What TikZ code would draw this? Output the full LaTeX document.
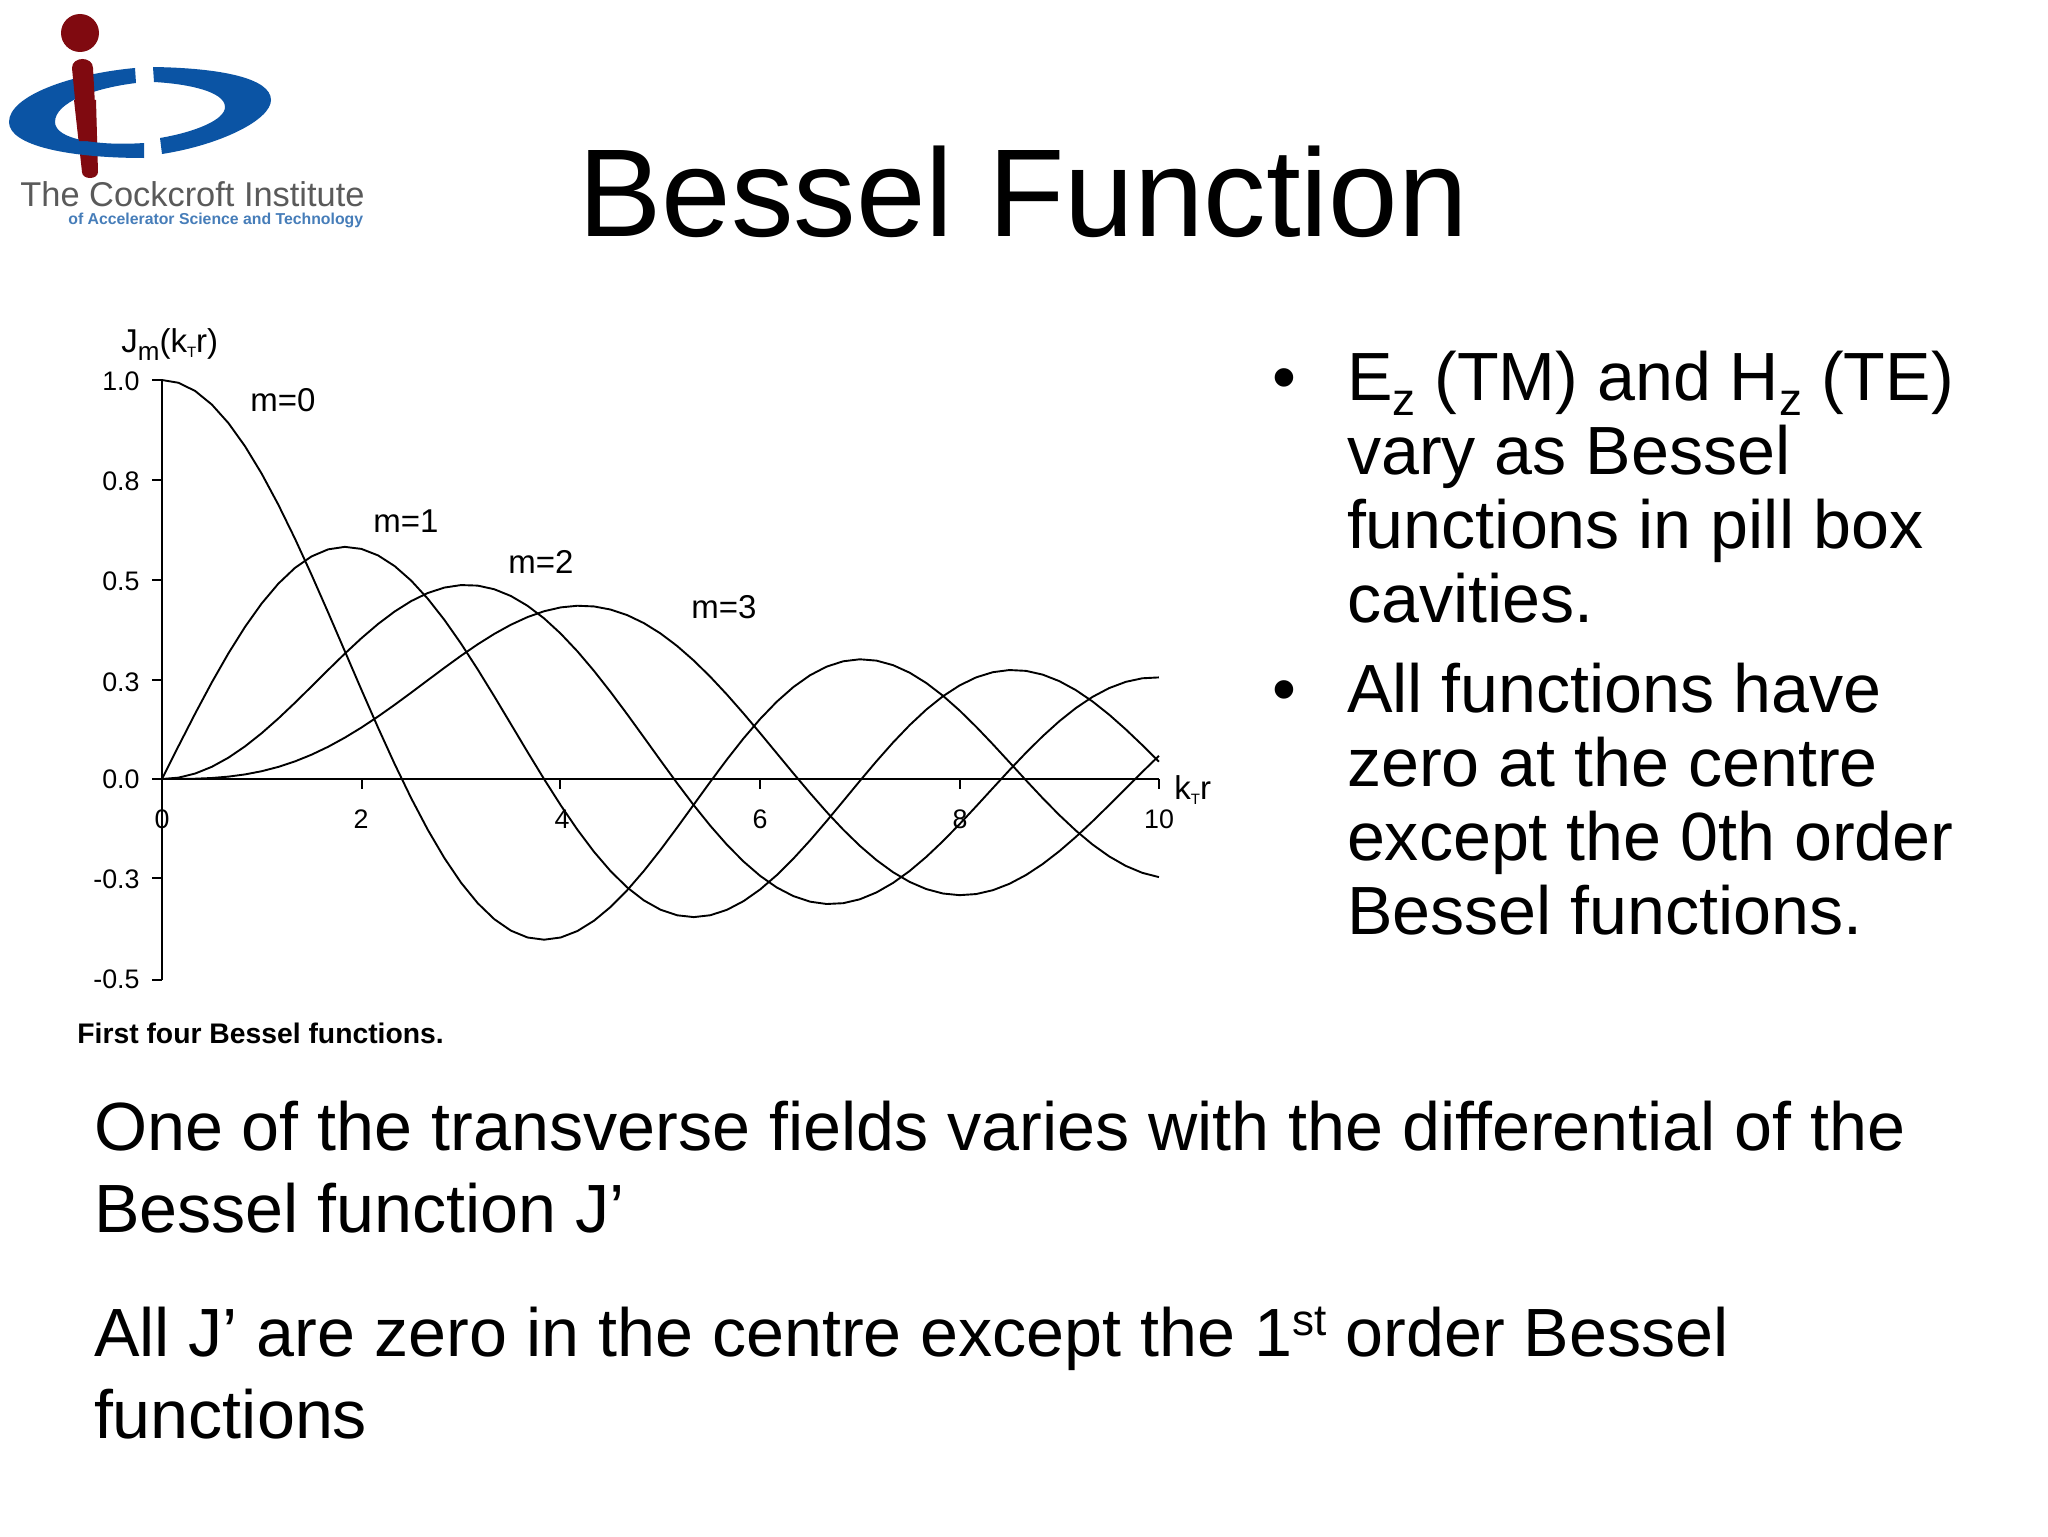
\documentclass[tikz,border=0pt]{standalone}
\usepackage{fontspec}
\setmainfont{Liberation Sans}
\newcommand{\sbs}[1]{\raisebox{-0.22em}{\fontsize{23}{23}\selectfont #1}}
\newcommand{\sps}[1]{\raisebox{0.3em}{\fontsize{22}{22}\selectfont #1}}
\newcommand{\sbt}[1]{\raisebox{-0.25em}{\fontsize{13}{13}\selectfont #1}}
\newcommand{\sbk}{\raisebox{-0.18em}{\fontsize{7.5}{7.5}\selectfont T}}
\definecolor{logoblue}{RGB}{11,84,164}
\definecolor{logored}{RGB}{128,10,16}
\definecolor{logogray}{RGB}{90,90,90}
\definecolor{logotxt}{RGB}{70,125,185}
\tikzset{
  txt/.style={anchor=base west,inner sep=0pt,outer sep=0pt,font=\fontsize{34.1}{34.1}\selectfont},
  low/.style={anchor=base west,inner sep=0pt,outer sep=0pt,font=\fontsize{34.12}{34.12}\selectfont},
  ylab/.style={anchor=base east,inner sep=0pt,font=\fontsize{13.4}{13.4}\selectfont},
  xlab/.style={anchor=base,inner sep=0pt,font=\fontsize{13.4}{13.4}\selectfont},
  mlab/.style={anchor=base west,inner sep=0pt,font=\fontsize{16.5}{16.5}\selectfont},
  axisline/.style={line width=1pt,black},
  curve/.style={line width=0.95pt,black,line join=round},
}
\begin{document}
\begin{tikzpicture}[x=0.5pt,y=-0.5pt,
  declare function={BJ(\n,\z)=(0.5+0.5*cos(180*\n)
    +cos(\n*15-deg(\z*sin(15)))+cos(\n*30-deg(\z*sin(30)))+cos(\n*45-deg(\z*sin(45)))
    +cos(\n*60-deg(\z*sin(60)))+cos(\n*75-deg(\z*sin(75)))+cos(\n*90-deg(\z*sin(90)))
    +cos(\n*105-deg(\z*sin(105)))+cos(\n*120-deg(\z*sin(120)))+cos(\n*135-deg(\z*sin(135)))
    +cos(\n*150-deg(\z*sin(150)))+cos(\n*165-deg(\z*sin(165))))/12;}]
\useasboundingbox[fill=white] (0,0) rectangle (2048,1536);
% logo
\fill[logored] (80,33) circle (9.5pt);
\fill[logored] (74,100) -- (96,100) -- (98,172) .. controls (98,180) and (82,180) .. (82,172) -- cycle;
\fill[logoblue] (135,68) .. controls (70,74) and (9,96) .. (9,122)
  .. controls (9,146) and (70,158) .. (144,158) -- (144,143)
  .. controls (100,146) and (55,140) .. (55,122)
  .. controls (55,102) and (95,88) .. (136,83) -- cycle;
\fill[logoblue] (153,67) .. controls (220,68) and (271,78) .. (271,100)
  .. controls (271,120) and (220,145) .. (162,154) -- (160,138)
  .. controls (195,132) and (225,120) .. (225,107)
  .. controls (225,92) and (190,84) .. (154,82) -- cycle;
\fill[logored] (72,68) .. controls (72,56) and (93,56) .. (93,68) -- (97,141) -- (79,141) -- cycle;
\node[anchor=base west,inner sep=0pt,text=logogray,font=\fontsize{17.2}{17.2}\selectfont] (logoa) at (20,206) {The Cockcroft Institute};
\node[anchor=base west,inner sep=0pt,text=logotxt,font=\bfseries\fontsize{7.9}{7.9}\selectfont] (logob) at (68,224) {of Accelerator Science and Technology};
% title
\node[anchor=base west,inner sep=0pt,font=\fontsize{62.5}{62.5}\selectfont] (title) at (578,236) {Bessel Function};
% chart
\coordinate (ytop) at (162,380);
\coordinate (ybot) at (162,980);
\coordinate (xl) at (162,779);
\coordinate (xr) at (1159,779);
\draw[axisline] (ytop) -- (ybot);
\draw[axisline] (xl) -- (xr);
\foreach \yy in {380,480,580,680,779,878,980} \draw[axisline] (152,\yy) -- (162,\yy);
\foreach \xx in {162,362,560,760,960,1159} \draw[axisline] (\xx,779) -- (\xx,789);
\foreach \m in {0,1,2,3}
  \draw[curve] plot[domain=0:10,samples=61] ({162+99.7*\x},{779-399*BJ(\m,\x)});
\node[ylab] (l10) at (140,390) {1.0};
\node[ylab] (l08) at (140,490) {0.8};
\node[ylab] (l05) at (140,590) {0.5};
\node[ylab] (l03) at (140,691) {0.3};
\node[ylab] (l00) at (140,788) {0.0};
\node[ylab] (lm3) at (140,888) {-0.3};
\node[ylab] (lm5) at (140,988) {-0.5};
\node[xlab] (x0) at (162,828) {0};
\node[xlab] (x2) at (361,828) {2};
\node[xlab] (x4) at (562,828) {4};
\node[xlab] (x6) at (760,828) {6};
\node[xlab] (x8) at (960,828) {8};
\node[xlab] (x10) at (1159,828) {10};
\node[mlab] (kr) at (1174,799) {k\sbk r};
\node[mlab] (jm) at (121,352) {J\sbt{m}(k\sbk r)};
\node[mlab] (m0) at (250,411) {m=0};
\node[mlab] (m1) at (373,532) {m=1};
\node[mlab] (m2) at (508,573) {m=2};
\node[mlab] (m3) at (691,618) {m=3};
\node[anchor=base west,inner sep=0pt,font=\bfseries\fontsize{14.15}{14.15}\selectfont] (cap) at (77,1043) {First four Bessel functions.};
% bullets
\node[txt] (b1) at (1272,400) {•};
\node[txt] (t1) at (1347,400) {E\sbs{z} (TM) and H\sbs{z} (TE)};
\node[txt] (t2) at (1347,474) {vary as Bessel};
\node[txt] (t3) at (1347,548) {functions in pill box};
\node[txt] (t4) at (1347,622) {cavities.};
\node[txt] (b2) at (1272,712) {•};
\node[txt] (t5) at (1347,712) {All functions have};
\node[txt] (t6) at (1347,786) {zero at the centre};
\node[txt] (t7) at (1347,860) {except the 0th order};
\node[txt] (t8) at (1347,934) {Bessel functions.};
% lower text
\node[low] (u1) at (94,1150) {One of the transverse fields varies with the differential of the};
\node[low] (u2) at (94,1232) {Bessel function J’};
\node[low] (u3) at (94,1356) {All J’ are zero in the centre except the 1\sps{st} order Bessel};
\node[low] (u4) at (94,1438) {functions};
\end{tikzpicture}
\end{document}
